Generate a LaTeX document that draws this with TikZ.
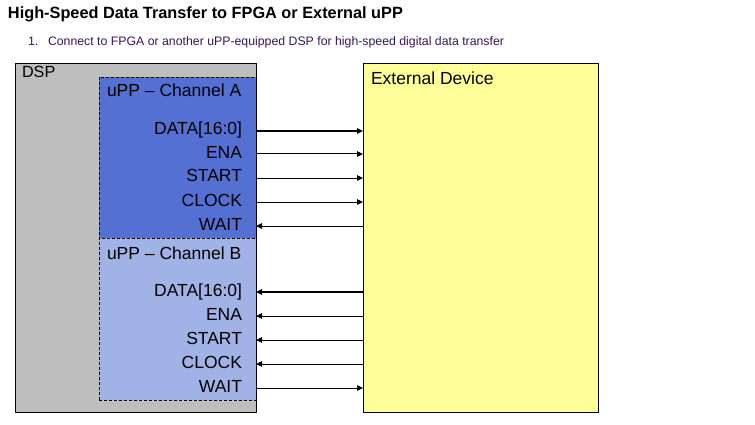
\documentclass[tikz,border=0pt]{standalone}
\usepackage{fontspec}
\setmainfont{Liberation Sans}
\usetikzlibrary{positioning,calc,arrows.meta}
\definecolor{dspgray}{RGB}{190,190,190}
\definecolor{chanA}{RGB}{84,112,210}
\definecolor{chanB}{RGB}{160,178,230}
\definecolor{extyellow}{RGB}{255,255,153}
\definecolor{itempurple}{RGB}{58,20,88}

\begin{document}
\begin{tikzpicture}[x=1pt,y=-1pt,every node/.style={outer sep=0pt,inner sep=0pt},
		box/.style={draw=black,line width=1pt,anchor=north west},
		chan/.style={draw=black,line width=0.8pt,dash pattern=on 3pt off 2pt,anchor=north west},
		lbl/.style={anchor=base west,font=\fontsize{17.5}{17.5}\selectfont},
		sig/.style={anchor=base east,font=\fontsize{17.5}{17.5}\selectfont},
		wire/.style={line width=1pt,-{Triangle[length=6pt,width=5.5pt]}},
		bus/.style={wire,line width=2pt}
		]
	\useasboundingbox (0,0) rectangle (755,425);
	\fill[white] (0,0) rectangle (755,425);

	% heading
	\node[anchor=base west,font=\bfseries\fontsize{16.3}{16.3}\selectfont] (title) at (8,19) {High-Speed Data Transfer to FPGA or External uPP};
	\node[anchor=base west,font=\fontsize{12.3}{12.3}\selectfont,text=itempurple] (num) at (28,46) {1.};
	\node[anchor=base west,font=\fontsize{12.3}{12.3}\selectfont,text=itempurple] (item) at (48,46) {Connect to FPGA or another uPP-equipped DSP for high-speed digital data transfer};

	% boxes
	\node[box,fill=dspgray,minimum width=241pt,minimum height=348pt] (dsp) at (15,64) {};
	\node[box,fill=extyellow,minimum width=235pt,minimum height=348pt] (ext) at (363,64) {};
	\node[chan,fill=chanA,minimum width=157pt,minimum height=161pt] (chA) at (99,77) {};
	\node[chan,fill=chanB,minimum width=157pt,minimum height=162pt] (chB) at (99,238) {};
	\draw[line width=1pt] (dsp.north east) -- (dsp.south east);

	\node[lbl,font=\fontsize{16.2}{16.2}\selectfont] (dsplbl) at (22,78) {DSP};
	\node[lbl] (extlbl) at (371,85) {External Device};
	\node[lbl] (chAlbl) at (107,97) {uPP – Channel A};
	\node[lbl] (chBlbl) at (107,259) {uPP – Channel B};

	% channel A, DSP to device
	\coordinate (a1) at (256,131);
	\coordinate (a2) at (256,154);
	\coordinate (a3) at (256,178);
	\coordinate (a4) at (256,202);
	\coordinate (a5) at (256,226);
	\path ($(a1)+(-14,4)$) node[sig] {DATA[16:0]};
	\path ($(a2)+(-14,4)$) node[sig] {ENA};
	\path ($(a3)+(-14,4)$) node[sig] {START};
	\path ($(a4)+(-14,4)$) node[sig] {CLOCK};
	\path ($(a5)+(-14,4)$) node[sig] {WAIT};
	\draw[bus] (a1) -- (a1 -| ext.west);
	\draw[wire] (a2) -- (a2 -| ext.west);
	\draw[wire] (a3) -- (a3 -| ext.west);
	\draw[wire] (a4) -- (a4 -| ext.west);
	\draw[wire] (a5 -| ext.west) -- (a5);

	% channel B, device to DSP
	\coordinate (b1) at (256,292);
	\coordinate (b2) at (256,316);
	\coordinate (b3) at (256,340);
	\coordinate (b4) at (256,364);
	\coordinate (b5) at (256,388);
	\path ($(b1)+(-14,4)$) node[sig] {DATA[16:0]};
	\path ($(b2)+(-14,4)$) node[sig] {ENA};
	\path ($(b3)+(-14,4)$) node[sig] {START};
	\path ($(b4)+(-14,4)$) node[sig] {CLOCK};
	\path ($(b5)+(-14,4)$) node[sig] {WAIT};
	\draw[bus] (b1 -| ext.west) -- (b1);
	\draw[wire] (b2 -| ext.west) -- (b2);
	\draw[wire] (b3 -| ext.west) -- (b3);
	\draw[wire] (b4 -| ext.west) -- (b4);
	\draw[wire] (b5) -- (b5 -| ext.west);
\end{tikzpicture}
\end{document}
